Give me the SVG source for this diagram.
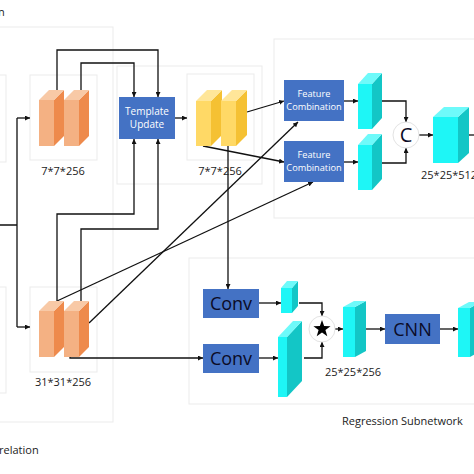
<svg xmlns="http://www.w3.org/2000/svg" width="474" height="474" viewBox="0 0 474 474">
<defs>
<style>
.reg{fill:none;stroke:#ebebeb;stroke-width:1}
.ln{fill:none;stroke:#111;stroke-width:1.3}
.ar{marker-end:url(#ah)}
.bx{fill:#4472C4}
.wt{font-family:'Open Sans',sans-serif;font-size:10px;fill:#fff;text-anchor:middle}
.ws{font-size:9.2px}
.bt{font-family:'Open Sans',sans-serif;font-size:18px;fill:#0b0b26;text-anchor:middle}
.lb{font-family:'Open Sans',sans-serif;font-size:11px;fill:#222}
.of{fill:#F4B183}.os{fill:#EE8A4C}.ot{fill:#F8C9A6}
.yf{fill:#FFD966}.ys{fill:#F5C133}.yt{fill:#FFE699}
.cf{fill:#1EF6F6}.cs{fill:#13C6C6}.ct{fill:#6EFAFA}
</style>
<marker id="ah" viewBox="0 0 10 10" refX="10" refY="5" markerWidth="5" markerHeight="5" markerUnits="userSpaceOnUse" orient="auto">
<path d="M0,0L10,5L0,10z" fill="#111"/>
</marker>
</defs>
<rect width="474" height="474" fill="#fff"/>
<text x="-2" y="16" class="lb">n</text>
<g id="regions">
<rect class="reg" x="-10" y="27" width="123" height="395"/>
<rect class="reg" x="-10" y="75" width="16" height="87"/>
<rect class="reg" x="-10" y="287" width="16" height="106"/>
<rect class="reg" x="30" y="75" width="67" height="85"/>
<rect class="reg" x="30" y="287" width="67" height="85"/>
<rect class="reg" x="117" y="66" width="145" height="118"/>
<rect class="reg" x="187" y="74" width="67" height="86"/>
<rect class="reg" x="274" y="39" width="210" height="179"/>
<rect class="reg" x="189" y="258" width="295" height="146"/>
</g>
<g id="connectors">
<path class="ln" d="M0,225H17M17,118V327"/>
<path class="ln ar" d="M17,118H30"/>
<path class="ln ar" d="M17,327H30"/>
<path class="ln ar" d="M57,90V50H158V97"/>
<path class="ln ar" d="M81,90V63H134V97"/>
<path class="ln ar" d="M57,301V214H134V139"/>
<path class="ln ar" d="M81,301V229H158V139"/>
<path class="ln ar" d="M175,118H187"/>
<path class="ln ar" d="M247,112L284,101"/>
<path class="ln ar" d="M203,146L284,162"/>
<path class="ln ar" d="M228,146V289"/>
<path class="ln ar" d="M89,323L298,122"/>
<path class="ln ar" d="M57,301L313,182"/>
<path class="ln ar" d="M344,101H358"/>
<path class="ln ar" d="M344,162H358"/>
<path class="ln ar" d="M382,101H406V122"/>
<path class="ln ar" d="M382,163H406V148"/>
<path class="ln ar" d="M419,135H433"/>
<path class="ln" d="M469,135H474"/>
<path class="ln ar" d="M70,356V358H203"/>
<path class="ln ar" d="M259,303H281"/>
<path class="ln ar" d="M259,358H278"/>
<path class="ln ar" d="M299,303H322V316"/>
<path class="ln ar" d="M304,358H322V342"/>
<path class="ln ar" d="M335,329H343"/>
<path class="ln ar" d="M366,329H385"/>
<path class="ln ar" d="M440,329H458"/>
</g>
<g id="orange-template">
<rect class="of" x="39" y="100" width="15" height="46"/>
<polygon class="os" points="54,100 64,90 64,136 54,146"/>
<polygon class="ot" points="39,100 49,90 64,90 54,100"/>
<rect class="of" x="64" y="100" width="15" height="46"/>
<polygon class="os" points="79,100 89,90 89,136 79,146"/>
<polygon class="ot" points="64,100 74,90 89,90 79,100"/>
<text x="63" y="175" class="lb" text-anchor="middle">7*7*256</text>
</g>
<g id="orange-search">
<rect class="of" x="39" y="311" width="15" height="46"/>
<polygon class="os" points="54,311 64,301 64,347 54,357"/>
<polygon class="ot" points="39,311 49,301 64,301 54,311"/>
<rect class="of" x="64" y="311" width="15" height="46"/>
<polygon class="os" points="79,311 89,301 89,347 79,357"/>
<polygon class="ot" points="64,311 74,301 89,301 79,311"/>
<text x="63" y="386" class="lb" text-anchor="middle">31*31*256</text>
</g>
<g id="template-update">
<rect class="bx" x="119" y="97" width="56" height="42"/>
<text x="147" y="115" class="wt">Template</text>
<text x="147" y="128" class="wt">Update</text>
</g>
<g id="yellow">
<rect class="yf" x="196" y="101" width="15" height="45"/>
<polygon class="ys" points="211,101 222,90 222,135 211,146"/>
<polygon class="yt" points="196,101 207,90 222,90 211,101"/>
<rect class="yf" x="221" y="101" width="15" height="45"/>
<polygon class="ys" points="236,101 247,90 247,135 236,146"/>
<polygon class="yt" points="221,101 232,90 247,90 236,101"/>
<text x="220" y="175" class="lb" text-anchor="middle">7*7*256</text>
</g>
<g id="feature-combination-1">
<rect class="bx" x="284" y="80" width="60" height="41"/>
<text x="314" y="97" class="wt ws">Feature</text>
<text x="314" y="110" class="wt ws">Combination</text>
</g>
<g id="feature-combination-2">
<rect class="bx" x="284" y="141" width="60" height="41"/>
<text x="314" y="158" class="wt ws">Feature</text>
<text x="314" y="171" class="wt ws">Combination</text>
</g>
<g id="cyan-1">
<rect class="cf" x="358" y="84" width="14" height="45"/>
<polygon class="cs" points="372,84 382,73 382,118 372,129"/>
<polygon class="ct" points="358,84 368,73 382,73 372,84"/>
</g>
<g id="cyan-2">
<rect class="cf" x="358" y="145" width="14" height="45"/>
<polygon class="cs" points="372,145 382,134 382,179 372,190"/>
<polygon class="ct" points="358,145 368,134 382,134 372,145"/>
</g>
<g id="concat">
<circle cx="406" cy="135" r="13" fill="#fff" stroke="#e3e3e3"/>
<text x="406" y="142" class="bt" style="font-size:20px">C</text>
</g>
<g id="cyan-big">
<rect class="cf" x="433" y="117" width="25" height="46"/>
<polygon class="cs" points="458,117 469,107 469,153 458,163"/>
<polygon class="ct" points="433,117 444,107 469,107 458,117"/>
<text x="421" y="179" class="lb">25*25*512</text>
</g>
<g id="conv-1">
<rect class="bx" x="203" y="289" width="56" height="29"/>
<text x="231" y="310" class="bt">Conv</text>
</g>
<g id="conv-2">
<rect class="bx" x="203" y="344" width="56" height="29"/>
<text x="231" y="365" class="bt">Conv</text>
</g>
<g id="cyan-small">
<rect class="cf" x="281" y="288" width="11" height="25"/>
<polygon class="cs" points="292,288 298,281 298,306 292,313"/>
<polygon class="ct" points="281,288 287,281 298,281 292,288"/>
</g>
<g id="cyan-tall">
<rect class="cf" x="278" y="337" width="9" height="60"/>
<polygon class="cs" points="287,337 302,321 302,381 287,397"/>
<polygon class="ct" points="278,337 293,321 302,321 287,337"/>
</g>
<g id="xcorr">
<circle cx="322" cy="329" r="13" fill="#fff" stroke="#e3e3e3"/>
<polygon fill="#000" points="322,320 324.12,326.09 330.56,326.22 325.42,330.11 327.29,336.28 322,332.6 316.71,336.28 318.58,330.11 313.44,326.22 319.88,326.09"/>
</g>
<g id="cyan-3">
<rect class="cf" x="343" y="307" width="12" height="50"/>
<polygon class="cs" points="355,307 366,301 366,351 355,357"/>
<polygon class="ct" points="343,307 354,301 366,301 355,307"/>
<text x="353" y="376" class="lb" text-anchor="middle">25*25*256</text>
</g>
<g id="cnn">
<rect class="bx" x="385" y="314" width="55" height="30"/>
<text x="412.5" y="336" class="bt">CNN</text>
</g>
<g id="cyan-4">
<rect class="cf" x="458" y="308" width="12" height="49"/>
<polygon class="cs" points="470,308 481,302 481,351 470,357"/>
<polygon class="ct" points="458,308 469,302 481,302 470,308"/>
</g>
<text x="342" y="425" class="lb">Regression Subnetwork</text>
<text x="-1" y="454" class="lb">relation</text>
</svg>
